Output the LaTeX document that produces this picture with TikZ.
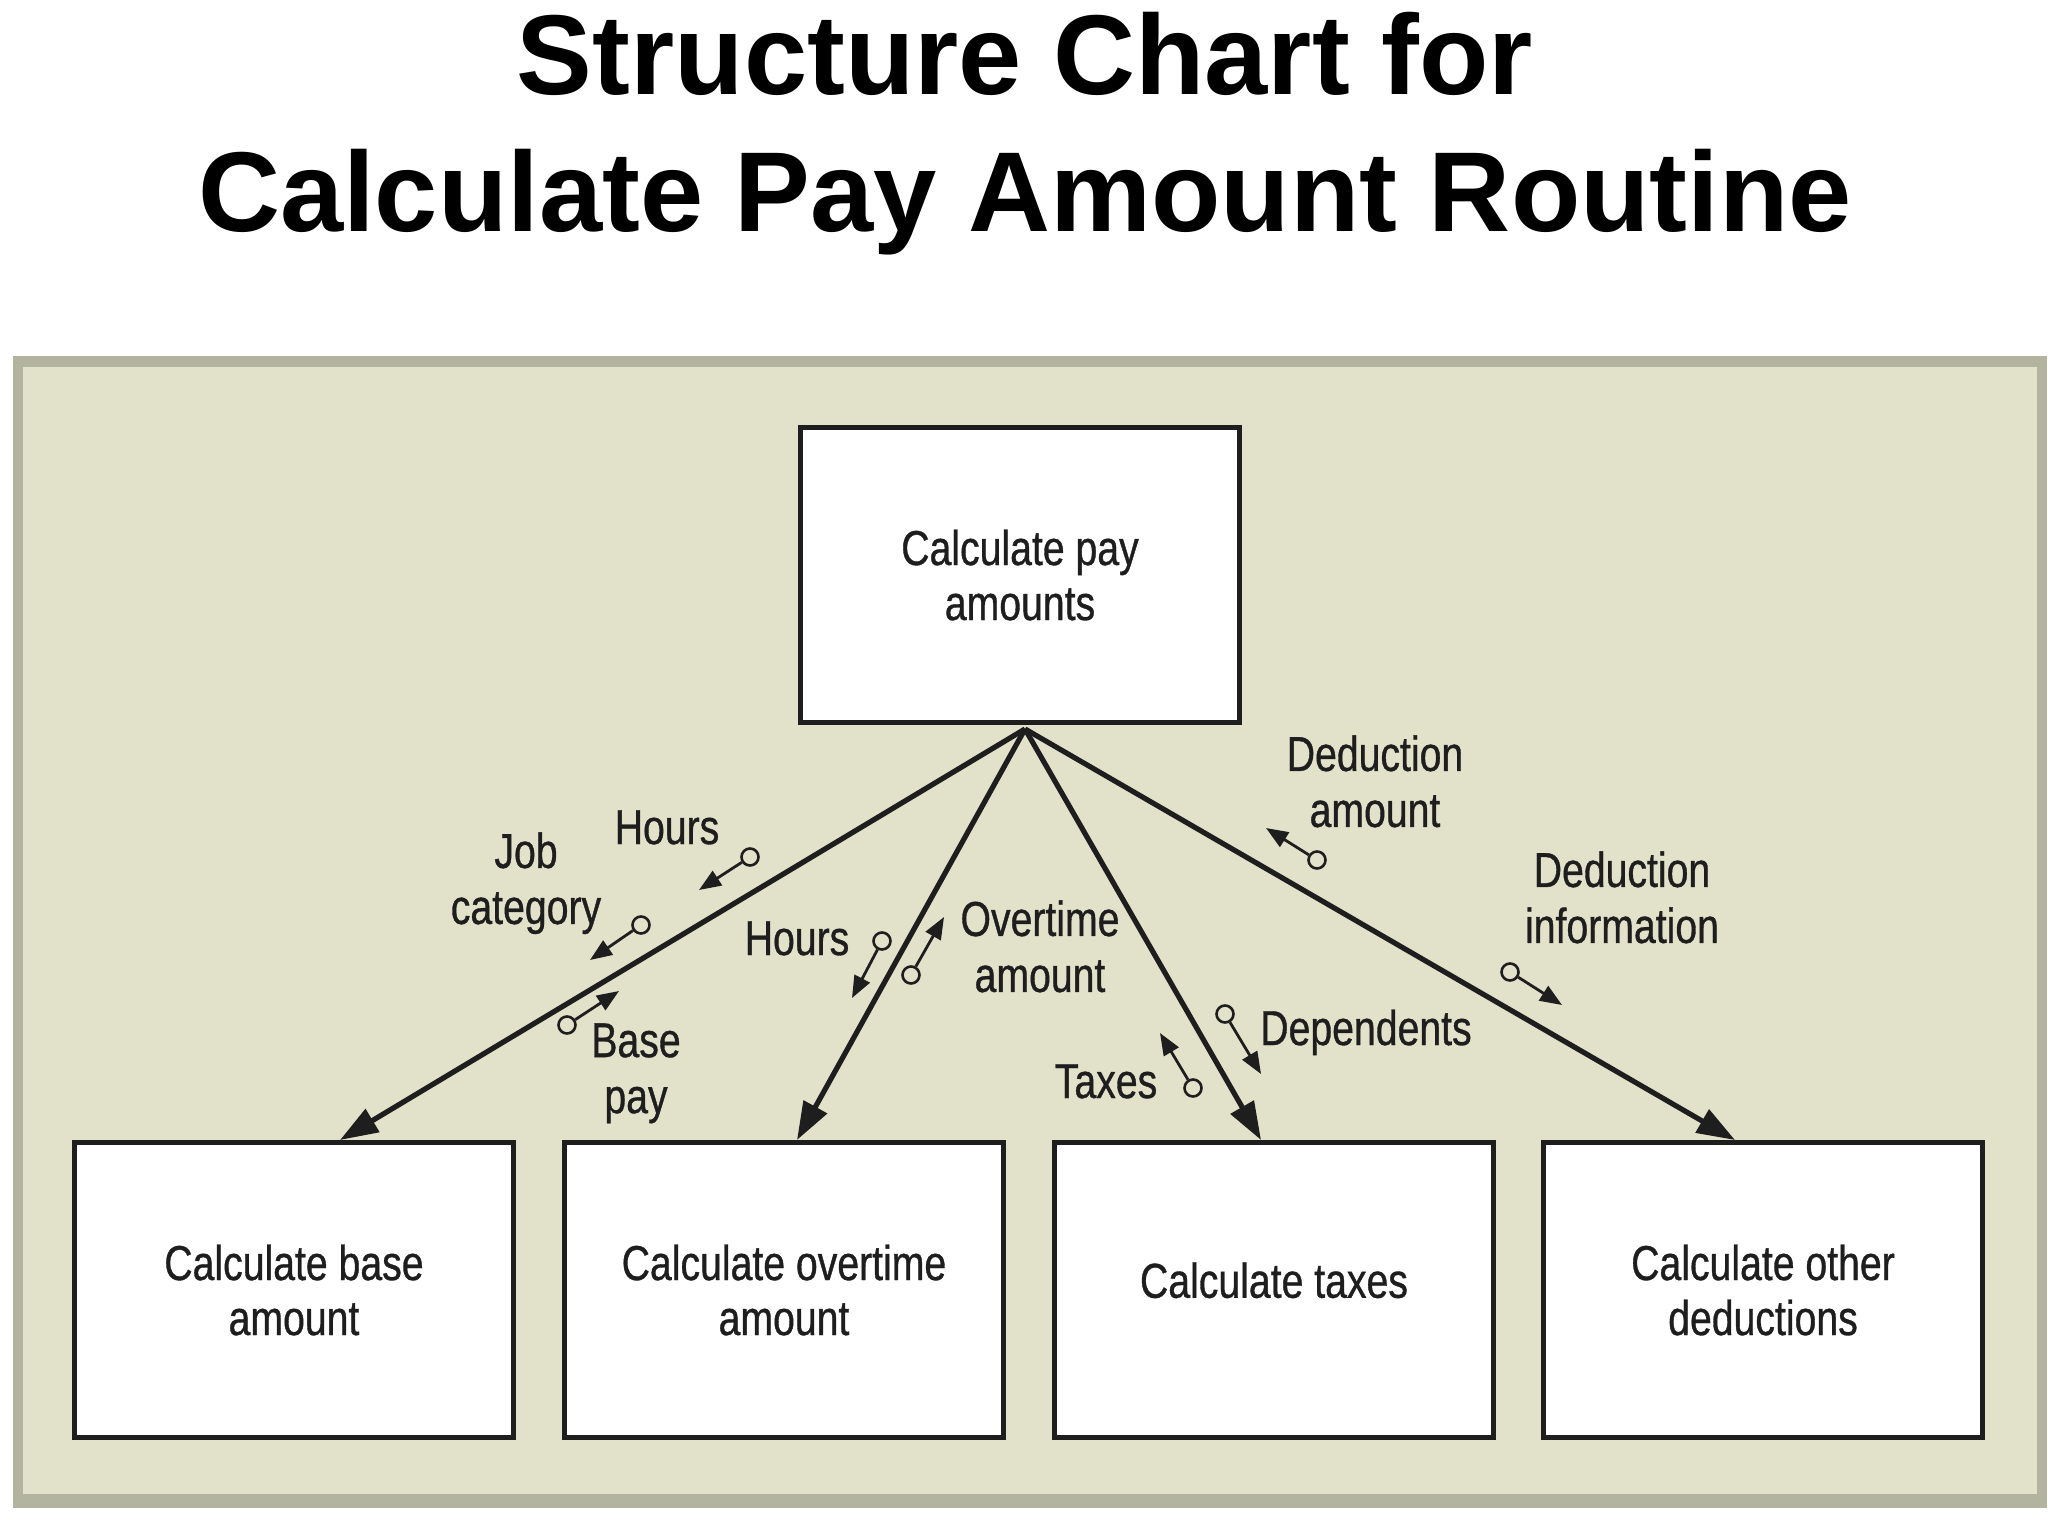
\documentclass[tikz,border=0pt]{standalone}
\usepackage{fontspec}
\setmainfont{Liberation Sans}
\newfontfamily\labfont[FakeStretch=0.8,FakeBold=0.7]{Liberation Sans}
\usetikzlibrary{arrows.meta,calc}
\definecolor{panelfill}{HTML}{E2E2CA}
\definecolor{paneledge}{HTML}{B3B4A0}
\definecolor{inkc}{HTML}{1E1E1E}
\begin{document}
\begin{tikzpicture}[x=0.5pt,y=-0.5pt,
  modbox/.style={draw=inkc, line width=2.5pt, fill=white, minimum width=219.5pt, minimum height=147.5pt, inner sep=0pt, align=center, font=\labfont\fontsize{24.5}{27.5}\selectfont, text=inkc},
  lbl/.style={inner sep=0pt, align=center, font=\labfont\fontsize{24.5}{28}\selectfont, text=inkc},
  call/.style={line width=2.6pt, draw=inkc, -{Triangle[length=19pt,width=13pt]}},
  couple/.style={line width=1.4pt, draw=inkc, -{Triangle[length=11pt,width=8.5pt]}},
  ring/.style={circle, draw=inkc, line width=1.3pt, fill=panelfill, minimum size=8.5pt, inner sep=0pt},
  ttl/.style={inner sep=0pt, font=\bfseries\fontsize{56.8}{68}\selectfont, text=black}
]
\useasboundingbox (0,0) rectangle (2048,1536);
\fill[white] (0,0) rectangle (2048,1536);
% title
\node[ttl, anchor=base] (title1) at (1025,95) {Structure Chart for};
\node[ttl, anchor=base] (title2) at (1025,231) {Calculate Pay Amount Routine};
% panel
\fill[paneledge] (13,356) rectangle (2047,1508);
\fill[panelfill] (23,367) rectangle (2037,1494);
% modules
\node[modbox] (top) at (1020,575) {Calculate pay\\amounts};
\node[modbox] (b1) at (294,1290) {Calculate base\\amount};
\node[modbox] (b2) at (784,1290) {Calculate overtime\\amount};
\node[modbox, text depth=10pt] (b3) at (1274,1290) {Calculate taxes};
\node[modbox] (b4) at (1763,1290) {Calculate other\\deductions};
% connectors
\coordinate (apex) at (1025,729);
\path (b1.north) ++(46,0) coordinate (t1);
\path (b2.north) ++(13,0) coordinate (t2);
\path (b3.north) ++(-13,0) coordinate (t3);
\path (b4.north) ++(-28,0) coordinate (t4);
\draw[call] (apex) -- (t1);
\draw[call] (apex) -- (t2);
\draw[call] (apex) -- (t3);
\draw[call] (apex) -- (t4);
% couples
\node[ring] (c1) at (750,857) {};  \coordinate (k1) at (699,890);
\node[ring] (c2) at (641,925) {};  \coordinate (k2) at (590,960);
\node[ring] (c3) at (567,1025) {}; \coordinate (k3) at (619,991);
\node[ring] (c4) at (882,941) {};  \coordinate (k4) at (852,998);
\node[ring] (c5) at (911,975) {};  \coordinate (k5) at (944,917);
\node[ring] (c6) at (1193,1088) {}; \coordinate (k6) at (1160,1033);
\node[ring] (c7) at (1225,1014) {}; \coordinate (k7) at (1261,1074);
\node[ring] (c8) at (1317,860) {};  \coordinate (k8) at (1266,828);
\node[ring] (c9) at (1510,972) {};  \coordinate (k9) at (1562,1005);
\foreach \i in {1,...,9} {\draw[couple] (c\i) -- (k\i);}
% labels
\node[lbl, anchor=base] (lhoursA) at (667,844) {Hours};
\node[lbl, anchor=north] (ljob) at (526,832) {Job\\category};
\node[lbl, anchor=north] (lbase) at (636,1023) {Base\\pay};
\node[lbl, anchor=base] (lhoursB) at (797,955) {Hours};
\node[lbl, anchor=north] (lovt) at (1040,900) {Overtime\\amount};
\node[lbl, anchor=base] (ltax) at (1106,1098) {Taxes};
\node[lbl, anchor=base] (ldep) at (1366,1045) {Dependents};
\node[lbl, anchor=north] (ldeda) at (1375,735) {Deduction\\amount};
\node[lbl, anchor=north] (ldedi) at (1622,851) {Deduction\\information};
\end{tikzpicture}
\end{document}
